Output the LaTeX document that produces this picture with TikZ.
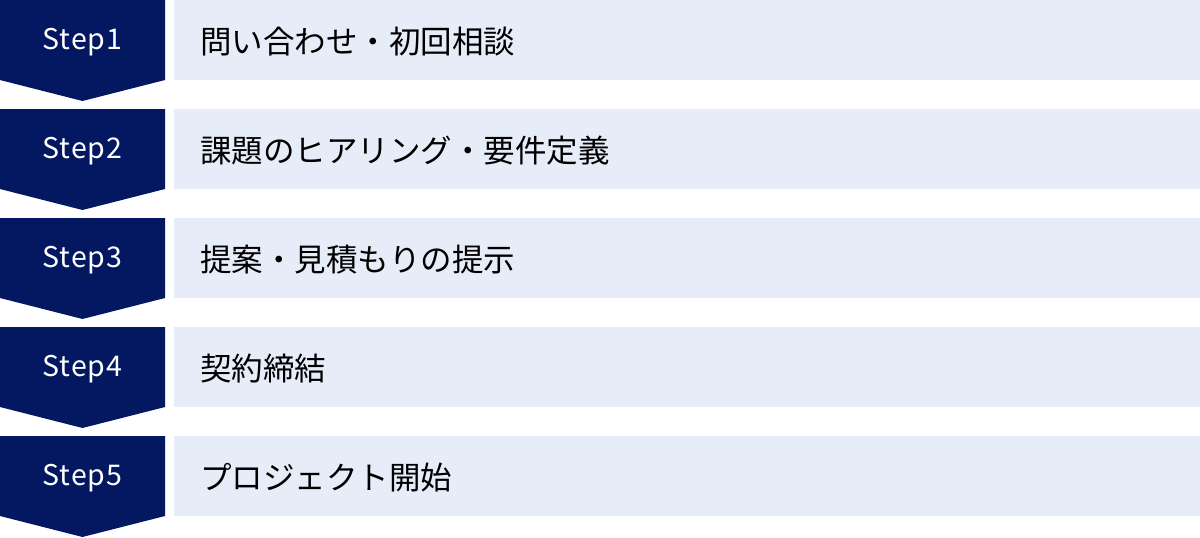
\documentclass[tikz,border=0pt]{standalone}
\usepackage{fontspec}
\setmainfont{Noto Sans CJK JP}
\newfontfamily\stepfont[LetterSpace=3]{Noto Sans CJK JP}
\definecolor{navy}{RGB}{3,24,96}
\definecolor{lightbg}{RGB}{230,236,248}
\begin{document}
\begin{tikzpicture}[x=1pt,y=-1pt,
  stepshape/.style={fill=navy,draw=none},
  contentbox/.style={fill=lightbg,draw=none},
  steplabel/.style={text=white,font=\stepfont\fontsize{28.5}{34}\selectfont,inner sep=0pt},
  contentlabel/.style={text=black,font=\fontsize{31.5}{36}\selectfont,anchor=west,inner sep=0pt}]
\useasboundingbox (0,0) rectangle (1200,538);
\foreach \i/\lab/\txt in {0/1/問い合わせ・初回相談,1/2/課題のヒアリング・要件定義,2/3/提案・見積もりの提示,3/4/契約締結,4/5/プロジェクト開始}{
  \pgfmathsetmacro{\t}{109*\i}
  \fill[stepshape] (0,\t) -- (165,\t) -- (165,\t+80) -- (82.5,\t+101) -- (0,\t+80) -- cycle;
  \fill[contentbox] (174,\t) rectangle (1200,\t+80);
  \node[steplabel] (step\lab) at (82.5,\t+42) {Step\lab};
  \node[contentlabel] (text\lab) at (200,\t+41.5) {\txt};
}
\end{tikzpicture}
\end{document}
